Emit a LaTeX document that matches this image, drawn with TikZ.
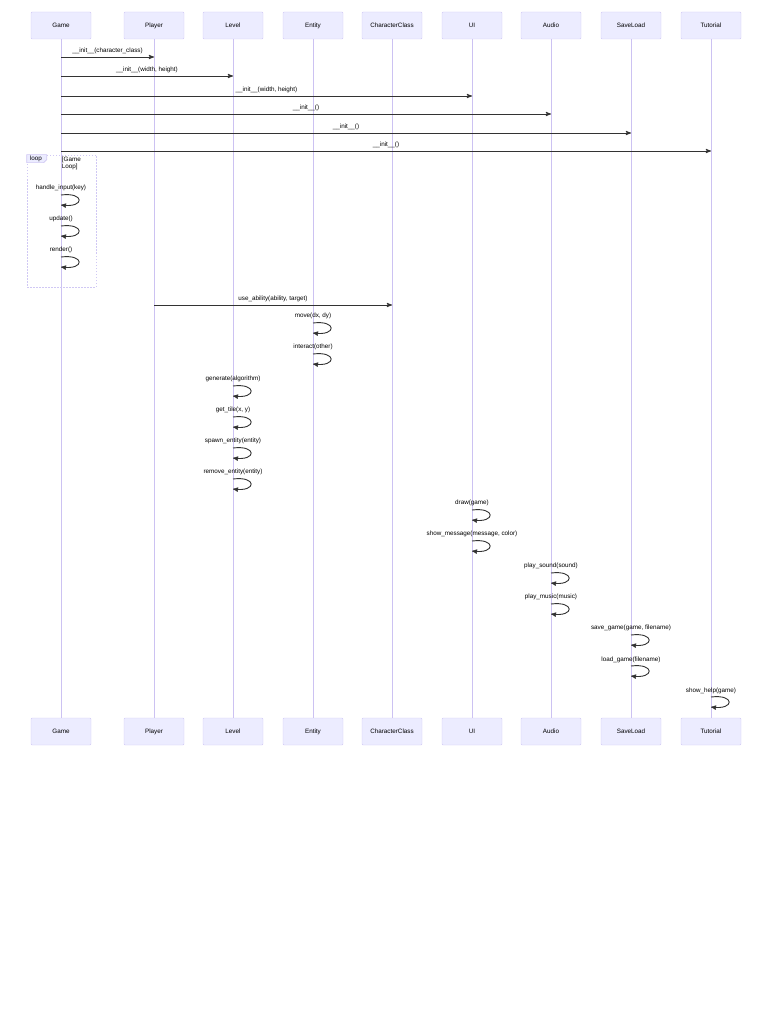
\documentclass[tikz,border=0pt]{standalone}
\usepackage{fontspec}
\setmainfont{Liberation Sans}
\usetikzlibrary{arrows,shapes}
\definecolor{actor_fill}{RGB}{236,236,255}
\definecolor{actor_edge}{RGB}{208,200,244}
\definecolor{life_line}{RGB}{204,194,242}
\definecolor{msg_line}{RGB}{51,51,51}

\begin{document}
\begin{tikzpicture}[x=1pt,y=-1pt,>=stealth',font=\fontsize{6.3}{7}\selectfont]
    \tikzstyle{actor}=[draw=actor_edge,fill=actor_fill,rounded corners=1pt,minimum width=60pt,minimum height=27pt,inner sep=0pt,text=black]
    \tikzstyle{lifeline}=[draw=life_line,line width=0.8pt]
    \tikzstyle{msg}=[->,draw=msg_line,line width=0.9pt]
    \tikzstyle{msglabel}=[text=black,inner sep=1pt,anchor=south]
    \tikzstyle{loopframe}=[draw=actor_edge,dash pattern=on 1.5pt off 1.5pt,line width=0.6pt,minimum width=69pt,minimum height=132pt,inner sep=0pt]

    \useasboundingbox (0,0) rectangle (768,1024);

    \foreach \n/\x in {Game/61,Player/154,Level/233,Entity/313,CharacterClass/392,UI/472,Audio/551,SaveLoad/631,Tutorial/711}{
      \node[actor] (\n-t) at (\x,25.5) {\n};
      \node[actor] (\n-b) at (\x,731.5) {\n};
      \draw[lifeline] (\n-t) -- (\n-b);
    }

    \node[loopframe] (loop) at (61.5,221) {};
    \draw[draw=actor_edge,fill=actor_fill,line width=0.6pt] (loop.north west) -- ++(20,0) -- ++(0,5) -- ++(-3,3) -- ++(-17,0) -- cycle;
    \node[anchor=west,inner sep=0pt] (looptag) at ([xshift=3pt,yshift=-4pt]loop.north west) {loop};
    \node[anchor=north west,align=left,inner sep=1pt] (looptitle) at ([xshift=34pt,yshift=-1pt]loop.north west) {[Game\\Loop]};

    \foreach \i/\y/\tx/\txt in {1/57/154/{\_\_init\_\_(character\_class)},
                                2/76/233/{\_\_init\_\_(width, height)},
                                3/96/472/{\_\_init\_\_(width, height)},
                                4/114/551/{\_\_init\_\_()},
                                5/133/631/{\_\_init\_\_()},
                                6/151/711/{\_\_init\_\_()}}{
      \coordinate (m\i s) at (61,\y);
      \coordinate (m\i e) at (\tx,\y);
      \draw[msg] (m\i s) -- node[msglabel,yshift=2pt] (m\i l) {\txt} (m\i e);
    }

    \coordinate (u s) at (154,305);
    \coordinate (u e) at (392,305);
    \draw[msg] (u s) -- node[msglabel,yshift=2pt] (u l) {use\_ability(ability, target)} (u e);

    \foreach \i/\x/\y/\txt in {1/61/195/{handle\_input(key)},
                               2/61/226/{update()},
                               3/61/257/{render()},
                               4/313/323/{move(dx, dy)},
                               5/313/354/{interact(other)},
                               6/233/386/{generate(algorithm)},
                               7/233/417/{get\_tile(x, y)},
                               8/233/448/{spawn\_entity(entity)},
                               9/233/479/{remove\_entity(entity)},
                               10/472/510/{draw(game)},
                               11/472/541/{show\_message(message, color)},
                               12/551/573/{play\_sound(sound)},
                               13/551/604/{play\_music(music)},
                               14/631/635/{save\_game(game, filename)},
                               15/631/666/{load\_game(filename)},
                               16/711/697/{show\_help(game)}}{
      \coordinate (s\i a) at (\x,\y);
      \coordinate (s\i b) at (\x,\y+10);
      \node[msglabel] (s\i l) at (\x,\y-2.5) {\txt};
      \draw[msg] (s\i a) .. controls +(24,-3) and +(24,3) .. (s\i b);
    }
\end{tikzpicture}
\end{document}
